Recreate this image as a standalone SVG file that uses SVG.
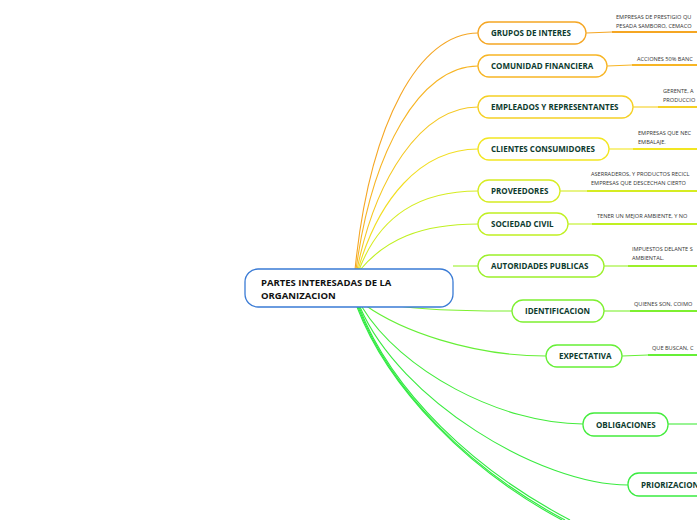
<svg xmlns="http://www.w3.org/2000/svg" width="697" height="520" viewBox="0 0 697 520">
<style>
.n{fill:#fff;stroke-width:1.3}
.t{font-family:"Open Sans","Liberation Sans",sans-serif;font-size:8px;font-weight:bold;fill:#0d3b2e}
.l{font-family:"Open Sans","Liberation Sans",sans-serif;font-size:5.6px;fill:#333}
.c{fill:none;stroke-width:1.1}
.u{fill:none;stroke-width:2.2}
</style>
<rect width="697" height="520" fill="#fff"/>
<g id="connectors">
<path class="c" stroke="#f5a623" d="M355,270 C370,120 420,33 478,33"/>
<path class="c" stroke="#f7b524" d="M356,270 C372,150 420,66 478,66"/>
<path class="c" stroke="#f5c823" d="M357,270 C375,180 420,107 478,107"/>
<path class="c" stroke="#f2de22" d="M358,270 C378,200 420,149 478,149"/>
<path class="c" stroke="#d6ec22" d="M359,270 C380,215 420,191 478,191"/>
<path class="c" stroke="#c0f022" d="M360,270 C385,240 420,224 478,224"/>
<path class="c" stroke="#9cf02a" d="M453,266 L478,266"/>
<path class="c" stroke="#7ef030" d="M370,300 C400,310 460,311 512,311"/>
<path class="c" stroke="#66ef36" d="M365,305 C400,330 470,356 546,356"/>
<path class="c" stroke="#44ec3c" d="M362,307 C400,370 500,424 583,424"/>
<path class="c" stroke="#3aeb40" d="M360,307 C400,400 540,485 628,485"/>
<path class="c" stroke="#30ea40" d="M358,307 C390,390 470,470 565,520"/>
<path class="c" stroke="#30ea40" d="M359,307 C392,392 474,470 570,520"/>
<path class="c" stroke="#30ea40" d="M357,307 C388,388 468,470 562,520"/>
<path class="c" stroke="#f5a623" d="M586,33 L612,32"/><path class="u" stroke="#f5a623" d="M612,32 L697,32"/>
<path class="c" stroke="#f7b524" d="M607,66 L632,65"/><path class="u" stroke="#f7b524" d="M632,65 L697,65"/>
<path class="c" stroke="#f5d024" d="M633,107 L658,107"/><path class="u" stroke="#f5d024" d="M658,107 L697,107"/>
<path class="c" stroke="#f2e622" d="M609,149 L633,149"/><path class="u" stroke="#f2e622" d="M633,149 L697,149"/>
<path class="c" stroke="#d6ec22" d="M560,191 L587,191"/><path class="u" stroke="#d6ec22" d="M587,191 L697,191"/>
<path class="c" stroke="#c0f022" d="M568,224 L592,224"/><path class="u" stroke="#c0f022" d="M592,224 L697,224"/>
<path class="c" stroke="#9cf02a" d="M604,266 L628,266"/><path class="u" stroke="#9cf02a" d="M628,266 L697,266"/>
<path class="c" stroke="#7ef030" d="M604,311 L630,311"/><path class="u" stroke="#7ef030" d="M630,311 L697,311"/>
<path class="c" stroke="#66ef36" d="M622,356 L648,355"/><path class="u" stroke="#66ef36" d="M648,355 L697,355"/>
<path class="c" stroke="#44ec3c" d="M668,424 L697,424"/>
</g>
<g id="central"><rect x="245" y="269" width="208" height="38" rx="13" fill="#fff" stroke="#3a7bd5" stroke-width="1.3"/>
<text class="t" x="261" y="286" style="font-size:9.5px;fill:#111">PARTES INTERESADAS DE LA</text>
<text class="t" x="261" y="299" style="font-size:9.5px;fill:#111">ORGANIZACION</text></g>
<g id="n1"><rect class="n" stroke="#f5a623" x="478" y="22" width="108" height="22" rx="11"/><text class="t" x="491" y="36">GRUPOS DE INTERES</text></g>
<g id="n2"><rect class="n" stroke="#f7b524" x="478" y="55" width="129" height="22" rx="11"/><text class="t" x="491" y="69">COMUNIDAD FINANCIERA</text></g>
<g id="n3"><rect class="n" stroke="#f5d024" x="478" y="96" width="155" height="22" rx="11"/><text class="t" x="491" y="110">EMPLEADOS Y REPRESENTANTES</text></g>
<g id="n4"><rect class="n" stroke="#f2e622" x="478" y="138" width="131" height="22" rx="11"/><text class="t" x="491" y="152">CLIENTES CONSUMIDORES</text></g>
<g id="n5"><rect class="n" stroke="#d6ec22" x="478" y="180" width="82" height="22" rx="11"/><text class="t" x="491" y="194">PROVEEDORES</text></g>
<g id="n6"><rect class="n" stroke="#c0f022" x="478" y="213" width="90" height="22" rx="11"/><text class="t" x="491" y="227">SOCIEDAD CIVIL</text></g>
<g id="n7"><rect class="n" stroke="#9cf02a" x="478" y="255" width="126" height="22" rx="11"/><text class="t" x="491" y="269">AUTORIDADES PUBLICAS</text></g>
<g id="n8"><rect class="n" stroke="#7ef030" x="512" y="300" width="92" height="22" rx="11"/><text class="t" x="525" y="314">IDENTIFICACION</text></g>
<g id="n9"><rect class="n" stroke="#66ef36" x="546" y="345" width="76" height="22" rx="11"/><text class="t" x="559" y="359">EXPECTATIVA</text></g>
<g id="n10"><rect class="n" stroke="#44ec3c" x="583" y="413" width="85" height="23" rx="11"/><text class="t" x="596" y="428">OBLIGACIONES</text></g>
<g id="n11"><rect class="n" stroke="#3aeb40" x="628" y="473" width="90" height="23" rx="11"/><text class="t" x="641" y="488">PRIORIZACION</text></g>
<g id="leaves">
<text class="l" x="616" y="19">EMPRESAS DE PRESTIGIO QU</text><text class="l" x="616" y="28">PESADA SAMBORO, CEMACO</text>
<text class="l" x="637" y="61">ACCIONES 50% BANC</text>
<text class="l" x="663" y="93">GERENTE, A</text><text class="l" x="663" y="102">PRODUCCIO</text>
<text class="l" x="638" y="135">EMPRESAS QUE NEC</text><text class="l" x="638" y="144">EMBALAJE.</text>
<text class="l" x="591" y="176">ASERRADEROS, Y PRODUCTOS RECICL</text><text class="l" x="591" y="185">EMPRESAS QUE DESCECHAN CIERTO</text>
<text class="l" x="597" y="218">TENER UN MEJOR AMBIENTE, Y NO</text>
<text class="l" x="632" y="251">IMPUESTOS DELANTE S</text><text class="l" x="632" y="260">AMBIENTAL.</text>
<text class="l" x="634" y="306">QUIENES SON, COIMO</text>
<text class="l" x="652" y="350">QUE  BUSCAN, C</text>
</g>
</svg>
